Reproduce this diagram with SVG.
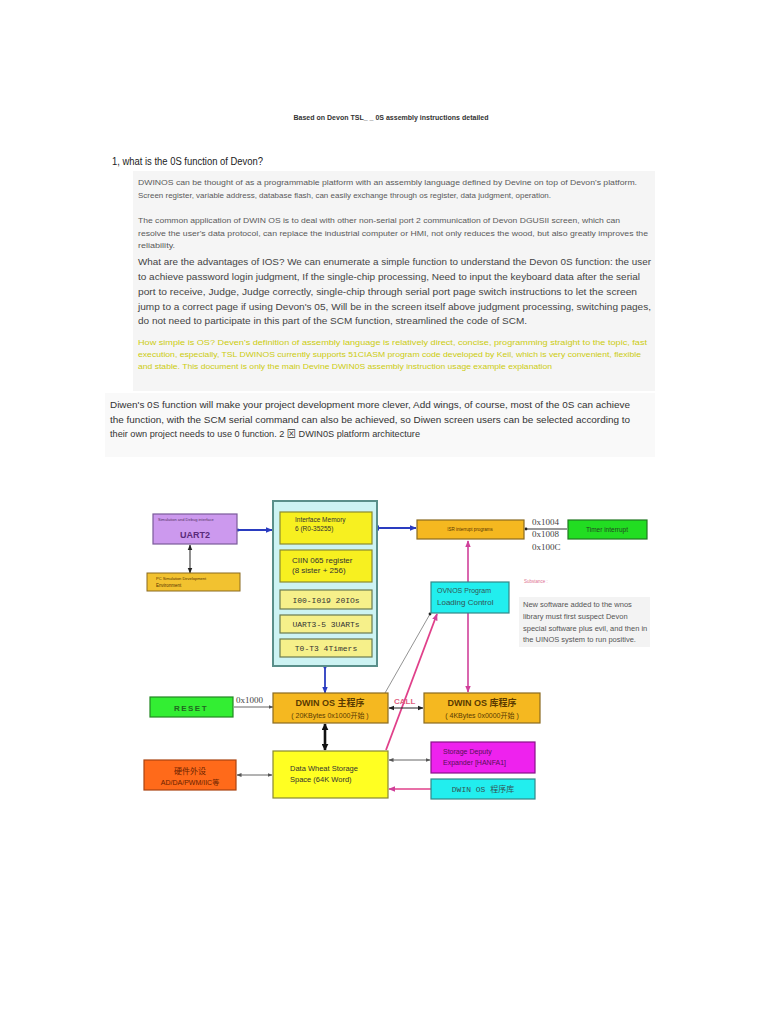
<svg xmlns="http://www.w3.org/2000/svg" width="768" height="1024" viewBox="0 0 768 1024">
<defs>
<style>
.t{font-family:"Liberation Sans","Noto Sans CJK SC",sans-serif;}
.p1{font-size:8px;fill:#5a5a5a;}
.p3{font-size:9.5px;fill:#444;}
.p4{font-size:7.5px;fill:#cccc10;}
.p5{font-size:9.5px;fill:#333;}
.hx{font-family:"Liberation Serif",serif;font-size:9px;fill:#444;}
.mono{font-family:"Liberation Mono","Noto Sans CJK SC",monospace;}
.cn{font-family:"Liberation Sans","Noto Sans CJK SC",sans-serif;}
</style>
<marker id="ab" viewBox="0 0 10 10" refX="9" refY="5" markerUnits="userSpaceOnUse" markerWidth="7" markerHeight="7" orient="auto-start-reverse"><path d="M0,1 L10,5 L0,9 z" fill="#2a3cc0"/></marker>
<marker id="ak" viewBox="0 0 10 10" refX="9" refY="5" markerUnits="userSpaceOnUse" markerWidth="6" markerHeight="6" orient="auto-start-reverse"><path d="M0,1 L10,5 L0,9 z" fill="#222"/></marker>
<marker id="ak2" viewBox="0 0 10 10" refX="9" refY="5" markerUnits="userSpaceOnUse" markerWidth="7" markerHeight="7" orient="auto-start-reverse"><path d="M0,0 L10,5 L0,10 z" fill="#111"/></marker>
<marker id="ag" viewBox="0 0 10 10" refX="9" refY="5" markerUnits="userSpaceOnUse" markerWidth="5" markerHeight="5" orient="auto-start-reverse"><path d="M0,1 L10,5 L0,9 z" fill="#555"/></marker>
<marker id="am" viewBox="0 0 10 10" refX="9" refY="5" markerUnits="userSpaceOnUse" markerWidth="7" markerHeight="7" orient="auto-start-reverse"><path d="M0,1 L10,5 L0,9 z" fill="#d0409a"/></marker>
<marker id="dk" viewBox="0 0 10 10" refX="5" refY="5" markerUnits="userSpaceOnUse" markerWidth="3.5" markerHeight="3.5"><circle cx="5" cy="5" r="4" fill="#222"/></marker>
<marker id="db" viewBox="0 0 10 10" refX="5" refY="5" markerUnits="userSpaceOnUse" markerWidth="4" markerHeight="4"><circle cx="5" cy="5" r="4" fill="#2a3cc0"/></marker>
</defs>
<rect width="768" height="1024" fill="#ffffff"/>

<g id="text-block">
<text class="t" x="391" y="120" text-anchor="middle" font-size="6.5" font-weight="bold" fill="#333" textLength="195" lengthAdjust="spacingAndGlyphs">Based on Devon TSL_ _ 0S assembly instructions detailed</text>
<text class="t" x="112" y="165" font-size="10.5" fill="#222" textLength="151" lengthAdjust="spacingAndGlyphs">1, what is the 0S function of Devon?</text>
<rect x="133" y="171" width="522" height="220" fill="#f5f5f5"/>
<rect x="105" y="393" width="550" height="64" fill="#f9f9f9"/>
<text class="t p1" x="138" y="185" textLength="499" lengthAdjust="spacingAndGlyphs">DWINOS can be thought of as a programmable platform with an assembly language defined by Devine on top of Devon's platform.</text>
<text class="t p1" x="138" y="198" textLength="413" lengthAdjust="spacingAndGlyphs">Screen register, variable address, database flash, can easily exchange through os register, data judgment, operation.</text>
<text class="t p1" x="138" y="223" textLength="482" lengthAdjust="spacingAndGlyphs">The common application of DWIN OS is to deal with other non-serial port 2 communication of Devon DGUSII screen, which can</text>
<text class="t p1" x="138" y="236" textLength="510" lengthAdjust="spacingAndGlyphs">resolve the user's data protocol, can replace the industrial computer or HMI, not only reduces the wood, but also greatly improves the</text>
<text class="t p1" x="138" y="248" textLength="37" lengthAdjust="spacingAndGlyphs">reliability.</text>
<text class="t p3" x="138" y="265" textLength="513" lengthAdjust="spacingAndGlyphs">What are the advantages of IOS? We can enumerate a simple function to understand the Devon 0S function: the user</text>
<text class="t p3" x="138" y="280" textLength="502" lengthAdjust="spacingAndGlyphs">to achieve password login judgment, If the single-chip processing, Need to input the keyboard data after the serial</text>
<text class="t p3" x="138" y="295" textLength="499" lengthAdjust="spacingAndGlyphs">port to receive, Judge, Judge correctly, single-chip through serial port page switch instructions to let the screen</text>
<text class="t p3" x="138" y="310" textLength="513" lengthAdjust="spacingAndGlyphs">jump to a correct page if using Devon's 05, Will be in the screen itself above judgment processing, switching pages,</text>
<text class="t p3" x="138" y="324" textLength="389" lengthAdjust="spacingAndGlyphs">do not need to participate in this part of the SCM function, streamlined the code of SCM.</text>
<text class="t p4" x="138" y="345" textLength="509" lengthAdjust="spacingAndGlyphs">How simple is OS? Deven's definition of assembly language is relatively direct, concise, programming straight to the topic, fast</text>
<text class="t p4" x="138" y="357" textLength="503" lengthAdjust="spacingAndGlyphs">execution, especially, TSL DWINOS currently supports 51CIASM program code developed by Keil, which is very convenient, flexible</text>
<text class="t p4" x="138" y="369" textLength="414" lengthAdjust="spacingAndGlyphs">and stable. This document is only the main Devine DWIN0S assembly instruction usage example explanation</text>
<text class="t p5" x="110" y="408" textLength="520" lengthAdjust="spacingAndGlyphs">Diwen's 0S function will make your project development more clever, Add wings, of course, most of the 0S can achieve</text>
<text class="t p5" x="110" y="423" textLength="520" lengthAdjust="spacingAndGlyphs">the function, with the SCM serial command can also be achieved, so Diwen screen users can be selected according to</text>
<text class="t p5" x="110" y="437" textLength="310" lengthAdjust="spacingAndGlyphs">their own project needs to use 0 function. 2 ⊠ DWIN0S platform architecture</text>
</g>

<g id="connectors" fill="none">
<line x1="238" y1="530" x2="272" y2="530" stroke="#2a3cc0" stroke-width="1.8" marker-start="url(#db)" marker-end="url(#ab)"/>
<line x1="373" y1="528" x2="416" y2="528" stroke="#2a3cc0" stroke-width="1.8" marker-start="url(#ab)" marker-end="url(#ab)"/>
<line x1="190" y1="545" x2="190" y2="573" stroke="#222" stroke-width="1" marker-start="url(#ak)" marker-end="url(#ak)"/>
<line x1="567" y1="529" x2="526" y2="529" stroke="#333" stroke-width="1" marker-end="url(#dk)"/>
<line x1="468" y1="541" x2="468" y2="692" stroke="#d0409a" stroke-width="1.6" marker-start="url(#am)" marker-end="url(#am)"/>
<line x1="386" y1="750" x2="437" y2="614" stroke="#e0408a" stroke-width="1.8" marker-end="url(#am)"/>
<line x1="385" y1="693" x2="430" y2="614" stroke="#777" stroke-width="0.8" marker-end="url(#dk)"/>
<line x1="325" y1="667" x2="325" y2="693" stroke="#2a3cc0" stroke-width="1.8" marker-start="url(#db)" marker-end="url(#ab)"/>
<line x1="325" y1="724" x2="325" y2="750" stroke="#111" stroke-width="2.6" marker-start="url(#ak2)" marker-end="url(#ak2)"/>
<line x1="234" y1="707" x2="273" y2="707" stroke="#666" stroke-width="1" marker-end="url(#ag)"/>
<line x1="389" y1="708" x2="423" y2="708" stroke="#222" stroke-width="1" marker-start="url(#ak)" marker-end="url(#ak)"/>
<line x1="237" y1="775" x2="272" y2="775" stroke="#555" stroke-width="0.9" marker-start="url(#ag)" marker-end="url(#ag)"/>
<line x1="389" y1="760" x2="430" y2="760" stroke="#555" stroke-width="0.9" marker-start="url(#ag)" marker-end="url(#ag)"/>
<line x1="431" y1="789" x2="389" y2="789" stroke="#e0408a" stroke-width="1.5" marker-end="url(#am)"/>
</g>

<g id="uart2">
<rect x="153" y="514" width="84" height="30" fill="#cc99ee" stroke="#7a5a9a" stroke-width="1.2"/>
<text class="t" x="158" y="521" font-size="4" fill="#553366">Simulation and Debug interface</text>
<text class="t" x="195" y="538" font-size="9" font-weight="bold" fill="#5a2a7a" text-anchor="middle">UART2</text>
</g>
<g id="pc-sim">
<rect x="147" y="573" width="93" height="18" fill="#f2c230" stroke="#8a6a20" stroke-width="1"/>
<text class="t" x="156" y="580" font-size="4" fill="#553300">PC Simulation Development</text>
<text class="t" x="156" y="587" font-size="4.5" fill="#553300">Environment</text>
</g>

<g id="os-container">
<rect x="273" y="501" width="104" height="165" fill="#cdf3f3" stroke="#5a8f8a" stroke-width="2"/>
</g>
<g id="interface-memory">
<rect x="280" y="512" width="92" height="32" fill="#f7f020" stroke="#8a8a30" stroke-width="1.2"/>
<text class="t" x="295" y="522" font-size="6.5" fill="#333">Interface Memory</text>
<text class="t" x="295" y="531" font-size="6.5" fill="#333">6 (R0-35255)</text>
</g>
<g id="os-register">
<rect x="280" y="550" width="92" height="32" fill="#f7f020" stroke="#8a8a30" stroke-width="1.2"/>
<text class="t" x="292" y="563" font-size="8" fill="#333">CIIN 065 register</text>
<text class="t" x="292" y="573" font-size="8" fill="#333">(8 sister + 256)</text>
</g>
<g id="ios">
<rect x="280" y="590" width="92" height="19" fill="#f6f08a" stroke="#6a7a50" stroke-width="1.2"/>
<text class="mono" x="326" y="603" font-size="8" fill="#333" text-anchor="middle">I00-I019 20IOs</text>
</g>
<g id="uarts">
<rect x="280" y="615" width="92" height="18" fill="#f6f08a" stroke="#6a7a50" stroke-width="1.2"/>
<text class="mono" x="326" y="627" font-size="8" fill="#333" text-anchor="middle">UART3-5 3UARTs</text>
</g>
<g id="timers">
<rect x="280" y="639" width="92" height="18" fill="#f6f08a" stroke="#6a7a50" stroke-width="1.2"/>
<text class="mono" x="326" y="651" font-size="8" fill="#333" text-anchor="middle">T0-T3 4Timers</text>
</g>

<g id="isr">
<rect x="417" y="520" width="107" height="19" fill="#f5b820" stroke="#8a6a20" stroke-width="1.2"/>
<text class="t" x="470" y="531" font-size="4.5" fill="#553300" text-anchor="middle">ISR interrupt programs</text>
</g>
<g id="timer-interrupt">
<rect x="568" y="520" width="79" height="19" fill="#22dd22" stroke="#227722" stroke-width="1.2"/>
<text class="t" x="607" y="532" font-size="6.5" fill="#224422" text-anchor="middle">Timer interrupt</text>
</g>
<g id="vector-labels">
<text class="hx" x="532" y="525">0x1004</text>
<text class="hx" x="532" y="537">0x1008</text>
<text class="hx" x="532" y="550">0x100C</text>
</g>

<g id="loading-control">
<rect x="431" y="582" width="78" height="31" fill="#22eeee" stroke="#338888" stroke-width="1.2"/>
<text class="t" x="437" y="593" font-size="7" fill="#335555">OVNOS Program</text>
<text class="t" x="437" y="605" font-size="8" fill="#335555">Loading Control</text>
</g>

<g id="note">
<text class="t" x="524" y="583" font-size="4.5" fill="#e07090">Substance :</text>
<rect x="519" y="597" width="131" height="50" fill="#f3f3f3"/>
<text class="t" x="523" y="607" font-size="7.5" fill="#555">New software added to the wnos</text>
<text class="t" x="523" y="619" font-size="7.5" fill="#555">library must first suspect Devon</text>
<text class="t" x="523" y="631" font-size="7.5" fill="#555">special software plus evil, and then in</text>
<text class="t" x="523" y="642" font-size="7.5" fill="#555">the UINOS system to run positive.</text>
</g>

<g id="reset">
<rect x="150" y="697" width="83" height="20" fill="#33ee33" stroke="#228822" stroke-width="1.2"/>
<text class="t" x="191" y="711" font-size="8" font-weight="bold" fill="#226622" text-anchor="middle" letter-spacing="1.5">RESET</text>
<text class="hx" x="236" y="703" font-size="8">0x1000</text>
</g>

<g id="main-program">
<rect x="273" y="693" width="115" height="30" fill="#f5b820" stroke="#8a6a20" stroke-width="1.2"/>
<text class="cn" x="330" y="706" font-size="9" font-weight="bold" fill="#5a3a00" text-anchor="middle">DWIN OS 主程序</text>
<text class="cn" x="330" y="718" font-size="7" fill="#5a3a00" text-anchor="middle">( 20KBytes 0x1000开始 )</text>
</g>
<text class="t" x="394" y="704" font-size="8" font-weight="bold" fill="#e06080">CALL</text>
<g id="library-program">
<rect x="424" y="693" width="116" height="30" fill="#f5b820" stroke="#8a6a20" stroke-width="1.2"/>
<text class="cn" x="482" y="706" font-size="9" font-weight="bold" fill="#5a3a00" text-anchor="middle">DWIN OS 库程序</text>
<text class="cn" x="482" y="718" font-size="7" fill="#5a3a00" text-anchor="middle">( 4KBytes 0x0000开始 )</text>
</g>

<g id="data-storage">
<rect x="273" y="751" width="115" height="47" fill="#ffff22" stroke="#888833" stroke-width="1.2"/>
<text class="t" x="290" y="771" font-size="7.5" fill="#333">Data Wheat Storage</text>
<text class="t" x="290" y="782" font-size="7.5" fill="#333">Space (64K Word)</text>
</g>
<g id="hardware">
<rect x="144" y="760" width="92" height="30" fill="#ff6a1a" stroke="#aa4411" stroke-width="1.2"/>
<text class="cn" x="190" y="774" font-size="8" fill="#6a2200" text-anchor="middle">硬件外设</text>
<text class="cn" x="190" y="785" font-size="7" fill="#6a2200" text-anchor="middle">AD/DA/PWM/IIC等</text>
</g>
<g id="storage-expander">
<rect x="431" y="742" width="104" height="31" fill="#ee22ee" stroke="#881188" stroke-width="1.2"/>
<text class="t" x="443" y="754" font-size="7" fill="#551155">Storage Deputy</text>
<text class="t" x="443" y="765" font-size="7" fill="#551155">Expander [HANFA1]</text>
</g>
<g id="program-library">
<rect x="431" y="779" width="104" height="20" fill="#22eeee" stroke="#338888" stroke-width="1.2"/>
<text class="mono" x="483" y="792" font-size="8" fill="#335555" text-anchor="middle">DWIN OS 程序库</text>
</g>
</svg>
